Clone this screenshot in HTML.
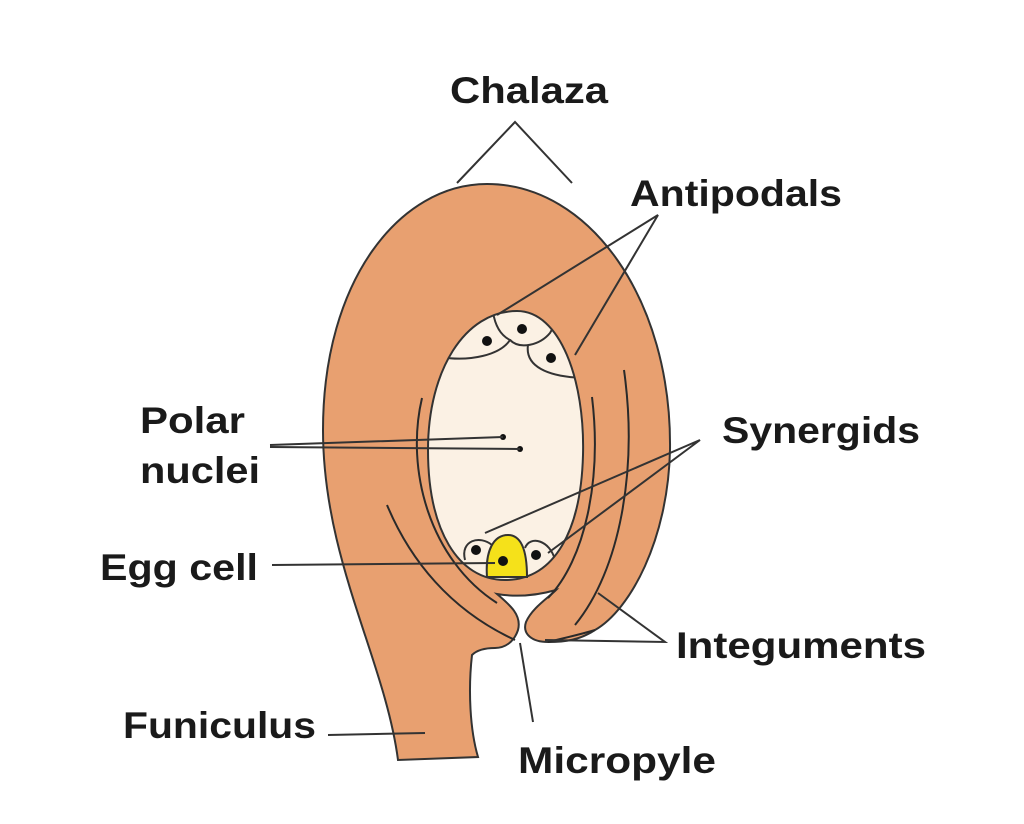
<!DOCTYPE html>
<html><head><meta charset="utf-8"><style>
html,body{margin:0;padding:0;background:#fff;}
svg{display:block;}
text{font-family:"Liberation Sans",sans-serif;font-size:37px;font-weight:bold;fill:#1a1a1a;}
</style></head><body>
<svg width="1024" height="824" viewBox="0 0 1024 824" xmlns="http://www.w3.org/2000/svg">
<defs>
<clipPath id="sac"><path d="M517,311 C560,311 585,380 583,455 C581,530 555,580 505,580 C458,580 428,530 428,450 C428,370 465,311 517,311 Z"/></clipPath>
</defs>
<path d="M398,760 C385,660 323,560 323,430 C323,280 400,184 487,184 C590,184 672,300 670,450 C668,540 630,610 595,630 C580,640 565,642 548,642 C532,642 522,634 526,622 C532,608 548,598 556,590 C535,596 515,597 497,594 C510,605 522,615 518,630 C514,642 505,648 495,648 C485,648 477,650 472,655 C468,690 470,730 478,757 Z" fill="#E8A070" stroke="#333" stroke-width="2"/>
<g fill="none" stroke="#2a2a2a" stroke-width="2">
<path d="M422,398 C405,470 430,560 497,603"/>
<path d="M387,505 C410,560 450,610 515,640"/>
<path d="M592,397 C602,480 585,560 548,598"/>
<path d="M624,370 C638,470 620,570 575,625"/>
<path d="M595,630 C575,636 555,640 548,642"/>
</g>
<path d="M517,311 C560,311 585,380 583,455 C581,530 555,580 505,580 C458,580 428,530 428,450 C428,370 465,311 517,311 Z" fill="#FBF1E4" stroke="#333" stroke-width="2"/>
<g clip-path="url(#sac)" fill="none" stroke="#333" stroke-width="2">
<path d="M440,357 C470,362 500,355 510,340 C500,335 495,325 493,312"/>
<path d="M510,340 C520,350 540,345 550,333 C555,325 560,315 560,305"/>
<path d="M528,345 C525,365 545,378 590,378"/>
<path d="M465,560 C460,540 480,535 492,545"/>
<path d="M525,548 C530,535 550,540 555,560 L560,580"/>
</g>
<path d="M487,577 C485,550 494,535 508,535 C522,535 527,552 527,577 Z" fill="#F5E11A" stroke="#333" stroke-width="2"/>
<g fill="#111">
<circle cx="487" cy="341" r="5"/><circle cx="522" cy="329" r="5"/><circle cx="551" cy="358" r="5"/>
<circle cx="476" cy="550" r="5"/><circle cx="536" cy="555" r="5"/><circle cx="503" cy="561" r="5"/>
<circle cx="503" cy="437" r="3"/><circle cx="520" cy="449" r="3"/>
</g>
<g stroke="#333" stroke-width="2" fill="none">
<path d="M457,183 L515,122 L572,183"/>
<path d="M497,315 L658,215 L575,355"/>
<path d="M270,445 L503,437 M270,447 L520,449"/>
<path d="M485,533 L700,440 L548,553"/>
<path d="M272,565 L495,563"/>
<path d="M598,593 L665,642 L545,640"/>
<path d="M328,735 L425,733"/>
<path d="M533,722 L520,643"/>
</g>
<text x="450" y="103" textLength="158" lengthAdjust="spacingAndGlyphs">Chalaza</text>
<text x="630" y="206" textLength="212" lengthAdjust="spacingAndGlyphs">Antipodals</text>
<text x="140" y="433" textLength="105" lengthAdjust="spacingAndGlyphs">Polar</text>
<text x="140" y="483" textLength="120" lengthAdjust="spacingAndGlyphs">nuclei</text>
<text x="722" y="443" textLength="198" lengthAdjust="spacingAndGlyphs">Synergids</text>
<text x="100" y="580" textLength="158" lengthAdjust="spacingAndGlyphs">Egg cell</text>
<text x="676" y="658" textLength="250" lengthAdjust="spacingAndGlyphs">Integuments</text>
<text x="123" y="738" textLength="193" lengthAdjust="spacingAndGlyphs">Funiculus</text>
<text x="518" y="773" textLength="198" lengthAdjust="spacingAndGlyphs">Micropyle</text>
</svg>
</body></html>
